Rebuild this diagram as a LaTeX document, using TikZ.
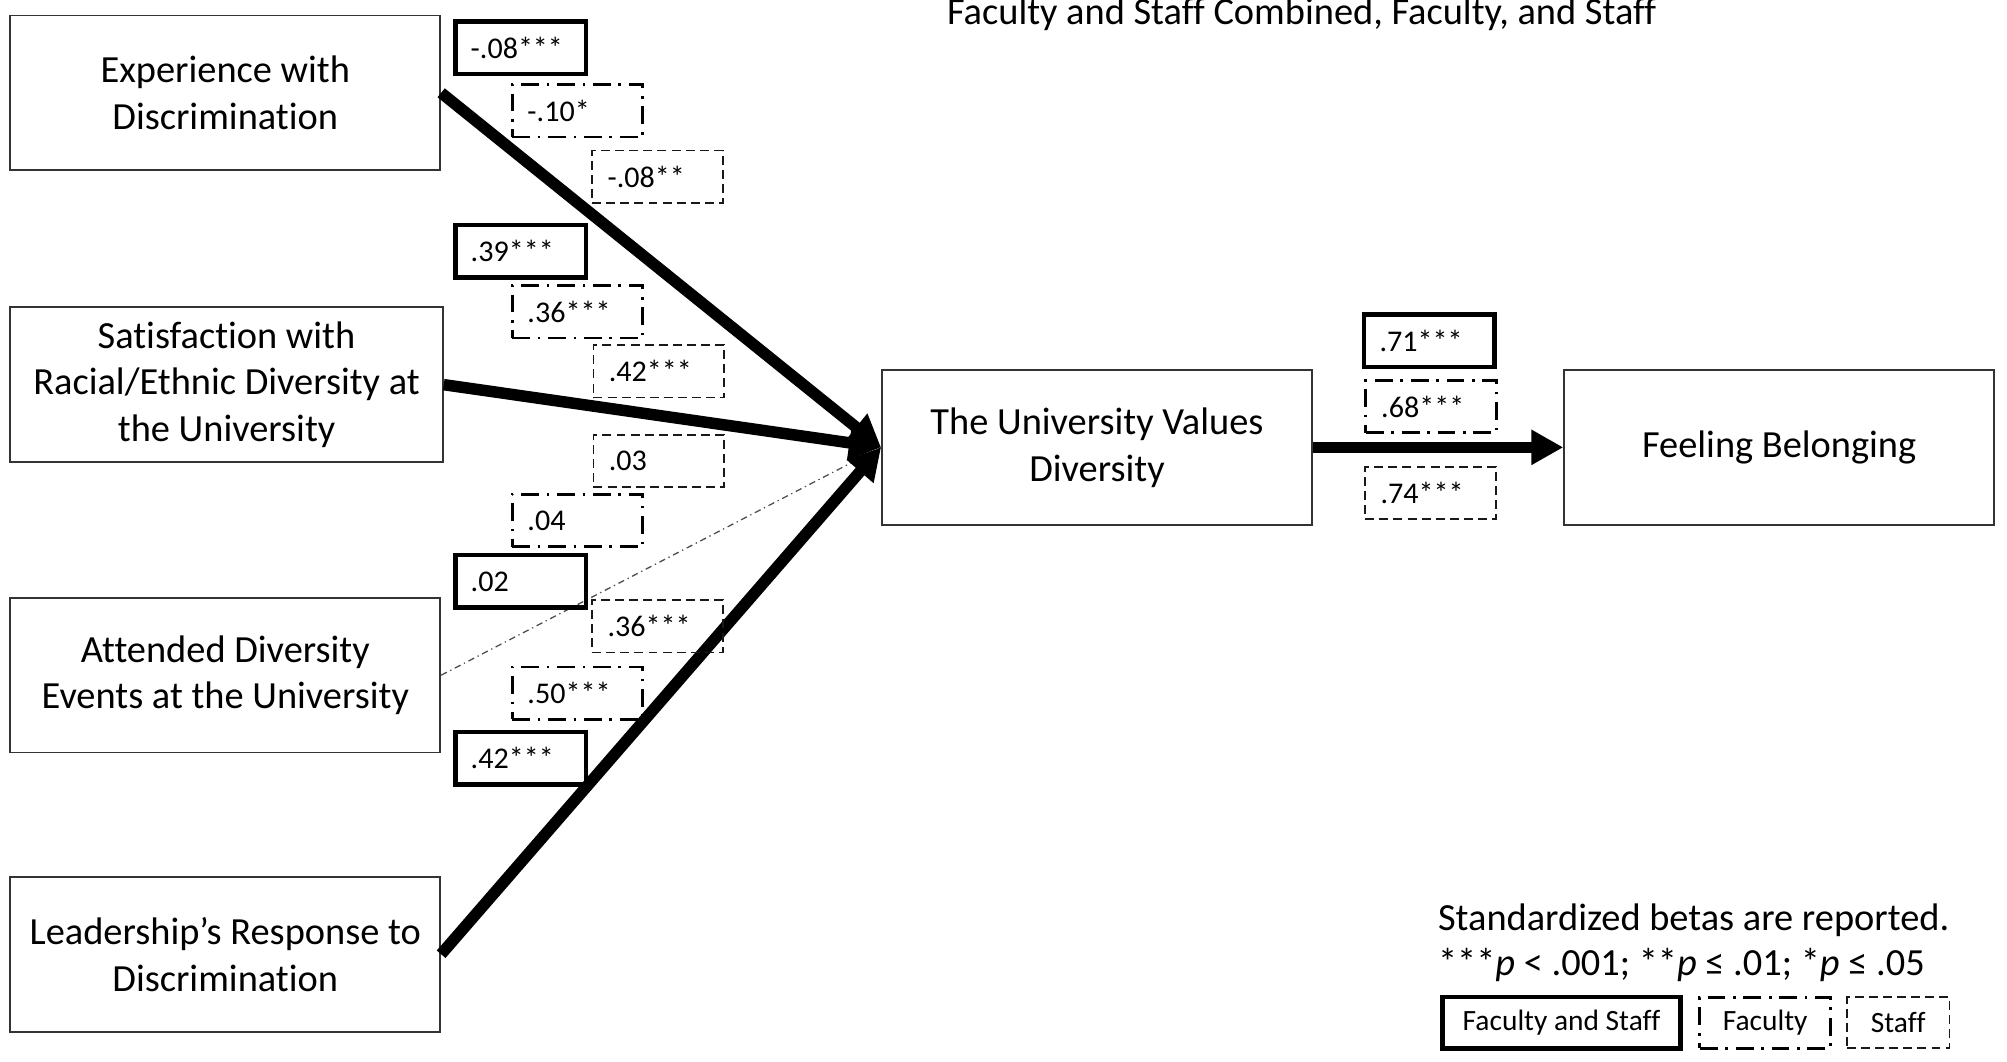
\documentclass[tikz,border=0pt]{standalone}
\usepackage{fontspec}
\setmainfont{Carlito}[Ligatures=NoCommon]
\usetikzlibrary{arrows.meta}
\begin{document}
\begin{tikzpicture}[x=1pt, y=-1pt,
    box/.style={draw=black!80, line width=1.3pt, minimum width=336pt, minimum height=121pt, align=center, font=\fontsize{30}{36.6}\selectfont},
    lab/.style={anchor=north west, minimum height=41pt, text width=78pt, inner xsep=12pt, align=left, font=\fontsize{23.5}{28}\selectfont},
    key/.style={minimum height=40pt, inner xsep=0pt, font=\fontsize{23}{28}\selectfont},
    fs/.style={draw, line width=3.5pt},
    fa/.style={draw, line width=2.2pt, dash pattern=on 14pt off 6pt on 2pt off 6pt},
    st/.style={draw=black!90, line width=1.3pt, dash pattern=on 7pt off 4pt},
    beta/.style={line width=9pt, -{Triangle[length=25pt,width=26pt]}}]
    \useasboundingbox (0,0) rectangle (1568,829.7);
    % title
    \node [anchor=base, font=\fontsize{30}{36}\selectfont] (title) at (1017,19.5) {Faculty and Staff Combined, Faculty, and Staff};
    % predictors, mediator, outcome
    \node [box] (exp) at (176,72.5) {Experience with\\Discrimination};
    \node [box, minimum width=338pt] (sat) at (177,300.5) {Satisfaction with\\Racial/Ethnic Diversity at\\the University};
    \node [box] (att) at (176,527.5) {Attended Diversity\\Events at the University};
    \node [box] (lead) at (176,745.5) {Leadership's Response to\\Discrimination};
    \node [box] (val) at (857,349.5) {The University Values\\Diversity};
    \node [box] (bel) at (1390,349.5) {Feeling Belonging};
    % paths
    \path [beta] (exp.east) edge (val.west);
    \path [beta] (sat.east) edge (val.west);
    \path [black!70, line width=1pt, dash pattern=on 5pt off 3pt on 1pt off 3pt] (att.east) edge (val.west);
    \path [beta] (lead.east) edge (val.west);
    \path [beta] (val.east) edge (bel.west);
    % betas
    \node [lab, fs] (e1) at (354,15) {-.08***};
    \node [lab, fa] (e2) at (399,65) {-.10*};
    \node [lab, st] (e3) at (462,117) {-.08**};
    \node [lab, fs] (s1) at (354,174) {.39***};
    \node [lab, fa] (s2) at (399,222) {.36***};
    \node [lab, st] (s3) at (463,269) {.42***};
    \node [lab, st] (a3) at (463,339) {.03};
    \node [lab, fa] (a2) at (399,385) {.04};
    \node [lab, fs] (a1) at (354,432) {.02};
    \node [lab, st] (l3) at (462,468) {.36***};
    \node [lab, fa] (l2) at (399,520) {.50***};
    \node [lab, fs] (l1) at (354,570) {.42***};
    \node [lab, fs] (v1) at (1064,244) {.71***};
    \node [lab, fa] (v2) at (1066,296) {.68***};
    \node [lab, st] (v3) at (1066,364) {.74***};
    % legend
    \node [anchor=base west, font=\fontsize{30}{36}\selectfont] (note) at (1120,727) {Standardized betas are reported.};
    \node [anchor=base west, font=\fontsize{30}{36}\selectfont] (sig) at (1120,762) {***\textit{p} < .001; **\textit{p} ≤ .01; *\textit{p} ≤ .05};
    \node [key, fs, minimum width=186pt] (kfs) at (1220,799) {Faculty and Staff};
    \node [key, fa, minimum width=102pt] (kfa) at (1379,799) {Faculty};
    \node [key, st, minimum width=80pt] (kst) at (1483,799) {Staff};
\end{tikzpicture}
\end{document}
